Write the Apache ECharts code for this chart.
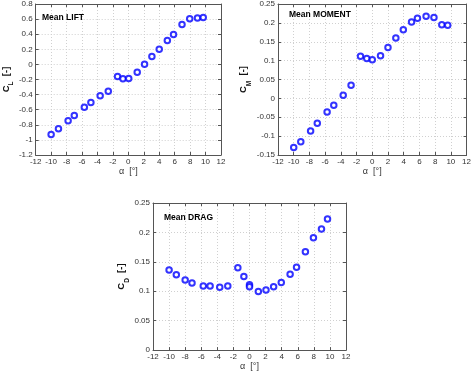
<!DOCTYPE html>
<html>
<head>
<meta charset="utf-8">
<script src="https://cdn.jsdelivr.net/npm/echarts@6/dist/echarts.min.js"></script>
<style>html,body{margin:0;padding:0;background:#fff;}#c{width:474px;height:372px;}</style>
</head>
<body>
<div id="c"></div>
<script>
// ---- data ----
var liftAlpha = [-10, -9.05, -7.8, -7.0, -5.7, -4.85, -3.65, -2.6, -1.4, -0.7, 0.05, 1.15, 2.1, 3.05, 4.0, 5.05, 5.85, 6.95, 7.95, 8.95, 9.7];
var liftCL = [-0.927, -0.852, -0.746, -0.676, -0.566, -0.504, -0.416, -0.354, -0.160, -0.191, -0.187, -0.103, 0.003, 0.104, 0.201, 0.315, 0.395, 0.527, 0.605, 0.615, 0.62];

var momentAlpha = [-10, -9.1, -7.85, -7.0, -5.75, -4.9, -3.7, -2.7, -1.5, -0.7, 0, 1.05, 2.0, 3.0, 3.95, 5.0, 5.75, 6.85, 7.85, 8.85, 9.6];
var momentCM = [-0.130, -0.115, -0.0865, -0.066, -0.036, -0.018, 0.0086, 0.035, 0.1117, 0.1055, 0.102, 0.113, 0.1346, 0.160, 0.182, 0.2025, 0.212, 0.2175, 0.214, 0.195, 0.194];

var dragAlpha = [-10, -9.1, -8, -7.15, -5.75, -4.9, -3.7, -2.7, -1.45, -0.7, 0, 0, 1.1, 2.05, 3.0, 3.95, 5.05, 5.85, 6.95, 7.95, 8.95, 9.7];
var dragCD = [0.136, 0.128, 0.119, 0.114, 0.109, 0.109, 0.107, 0.109, 0.140, 0.125, 0.111, 0.1075, 0.0998, 0.102, 0.1075, 0.115, 0.129, 0.141, 0.167, 0.191, 0.206, 0.223];

var xTicks = {min: -12, max: 12, interval: 2};
var panels = [
  {title: 'Mean LIFT', sub: 'L', yMin: -1.2, yMax: 0.8, yInt: 0.2, x: liftAlpha, y: liftCL},
  {title: 'Mean MOMENT', sub: 'M', yMin: -0.15, yMax: 0.25, yInt: 0.05, x: momentAlpha, y: momentCM},
  {title: 'Mean DRAG', sub: 'D', yMin: 0, yMax: 0.25, yInt: 0.05, x: dragAlpha, y: dragCD}
];

// ---- layout ----
var grids = [
  {left: 29, top: 4, width: 192, height: 151},
  {left: 278, top: 4, width: 191, height: 151},
  {left: 153, top: 203, width: 193, height: 152}
];
var titlePos = [{left: 42, top: 13}, {left: 289, top: 10}, {left: 164, top: 213}];

var FONT = 'Liberation Sans, Arial, sans-serif';
var axisCol = '#555';
var labelCol = '#333';

var option = {
  animation: false,
  backgroundColor: '#fff',
  title: [], grid: [], xAxis: [], yAxis: [], series: []
};

panels.forEach(function (p, i) {
  option.grid.push(Object.assign({containLabel: false, show: false}, grids[i]));
  option.title.push({
    text: p.title, left: titlePos[i].left, top: titlePos[i].top, padding: 0,
    textStyle: {fontFamily: FONT, fontSize: 8.5, fontWeight: 'bold', color: '#000'}
  });
  var xb = {
    type: 'value', gridIndex: i, position: 'bottom',
    min: xTicks.min, max: xTicks.max, interval: xTicks.interval,
    name: 'α  [°]', nameLocation: 'middle', nameGap: 11,
    nameTextStyle: {fontFamily: FONT, fontSize: 9, color: labelCol},
    axisLine: {show: true, onZero: false, lineStyle: {color: axisCol, width: 1}},
    axisTick: {show: true, inside: true, length: 3, lineStyle: {color: axisCol}},
    axisLabel: {fontFamily: FONT, fontSize: 8, color: labelCol, margin: 3},
    splitLine: {show: true, lineStyle: {type: [1, 2], color: '#d0d0d0', width: 1}}
  };
  var xt = {
    type: 'value', gridIndex: i, position: 'top',
    min: xTicks.min, max: xTicks.max, interval: xTicks.interval,
    axisLine: {show: true, onZero: false, lineStyle: {color: axisCol, width: 1}},
    axisTick: {show: true, inside: true, length: 3, lineStyle: {color: axisCol}},
    axisLabel: {show: false}, splitLine: {show: false}
  };
  var yl = {
    type: 'value', gridIndex: i, position: 'left',
    min: p.yMin, max: p.yMax, interval: p.yInt,
    name: '{c|C}{s|' + p.sub + '}{c|  [-]}', nameLocation: 'middle', nameGap: 13, nameRotate: 90,
    nameTextStyle: {
      rich: {
        c: {fontFamily: FONT, fontSize: 9.5, fontWeight: 'bold', color: '#111'},
        s: {fontFamily: FONT, fontSize: 6.5, fontWeight: 'bold', color: '#111', verticalAlign: 'bottom', padding: [0, 0, -4, 0]}
      }
    },
    axisLine: {show: true, onZero: false, lineStyle: {color: axisCol, width: 1}},
    axisTick: {show: true, inside: true, length: 3, lineStyle: {color: axisCol}},
    axisLabel: {fontFamily: FONT, fontSize: 8, color: labelCol, margin: 3},
    splitLine: {show: true, lineStyle: {type: [1, 2], color: '#d0d0d0', width: 1}}
  };
  var yr = {
    type: 'value', gridIndex: i, position: 'right',
    min: p.yMin, max: p.yMax, interval: p.yInt,
    axisLine: {show: true, onZero: false, lineStyle: {color: axisCol, width: 1}},
    axisTick: {show: true, inside: true, length: 3, lineStyle: {color: axisCol}},
    axisLabel: {show: false}, splitLine: {show: false}
  };
  var xIdx = option.xAxis.length;
  option.xAxis.push(xb, xt);
  var yIdx = option.yAxis.length;
  option.yAxis.push(yl, yr);
  option.series.push({
    type: 'scatter', xAxisIndex: xIdx, yAxisIndex: yIdx,
    symbol: 'emptyCircle', symbolSize: 5.5,
    itemStyle: {color: '#0000ff', borderColor: '#0000ff', borderWidth: 1.6},
    data: p.x.map(function (a, k) { return [a, p.y[k]]; })
  });
});

var chart = echarts.init(document.getElementById('c'), null, {renderer: 'canvas'});
chart.setOption(option);
</script>
</body>
</html>
